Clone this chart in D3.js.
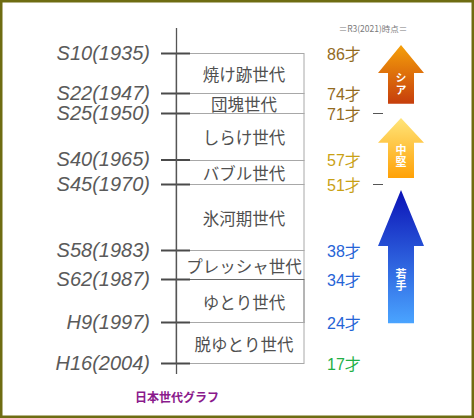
<!DOCTYPE html>
<html>
<head>
<meta charset="utf-8">
<script src="https://cdn.jsdelivr.net/npm/d3@7"></script>
<style>
  html, body { margin: 0; padding: 0; background: #fff; }
  svg { display: block; }
</style>
</head>
<body>
<div id="chart"></div>
<script>
// era label, birth year, generation between this year and the next, age in R3(2021)
const eraLabels = ["S10(1935)", "S22(1947)", "S25(1950)", "S40(1965)", "S45(1970)",
                   "S58(1983)", "S62(1987)", "H9(1997)", "H16(2004)"];
const years = [1935, 1947, 1950, 1965, 1970, 1983, 1987, 1997, 2004];
const generations = ["焼け跡世代", "団塊世代", "しらけ世代", "バブル世代",
                     "氷河期世代", "プレッシャ世代", "ゆとり世代", "脱ゆとり世代"];
const ages = [86, 74, 71, 57, 51, 38, 34, 24, 17];
const ageGroups = ["senior", "senior", "senior", "middle", "middle", "young", "young", "young", "teen"];
const groupBreaks = [1950, 1970];

// arrows (years: tip, head base, bottom)
const arrowNames = ["シア", "中堅", "若手"];
const arrowGroups = ["senior", "middle", "young"];
const arrowTop = [1932.6, 1951.6, 1971.2];
const arrowHeadBase = [1941.0, 1959.6, 1982.2];
const arrowBottom = [1948.6, 1968.8, 1997.2];

const ageColor = {
    'senior': '#936b1e',
    'middle': '#c9a115',
    'young': '#2563d6',
    'teen': '#22b045'
};

const arrowStops = {
    'senior': ['#f5a00a', '#c63e0c'],
    'middle': ['#ffe57a', '#ffa106'],
    'young': ['#0b12b6', '#4aa4ff']
};

var width = 474, height = 418;

var svg = d3.select('#chart').append('svg')
    .attr('width', width)
    .attr('height', height);

// frame
svg.append('rect')
    .attr('x', 1.25).attr('y', 1.25)
    .attr('width', width - 2.5).attr('height', height - 2.5)
    .attr('fill', '#fff')
    .attr('stroke', '#6e6c12')
    .attr('stroke-width', 2.5);

// the timeline is drawn piecewise, row heights set by hand like the original
var yScale = d3.scaleLinear()
    .domain(years)
    .range([53, 93, 113, 159.5, 184, 250, 279, 322, 363]);

var axisX = 176, boxRight = 304;

var defs = svg.append('defs');
arrowGroups.forEach(function (g) {
    var grad = defs.append('linearGradient')
        .attr('id', 'grad-' + g)
        .attr('x1', 0).attr('y1', 0).attr('x2', 0).attr('y2', 1);
    grad.append('stop').attr('offset', '0%').attr('stop-color', arrowStops[g][0]);
    grad.append('stop').attr('offset', '100%').attr('stop-color', arrowStops[g][1]);
});

// generation boxes
var rows = generations.map(function (name, i) {
    return { name: name, y0: years[i], y1: years[i + 1] };
});

svg.selectAll('rect.gen')
    .data(rows)
    .enter().append('rect')
    .attr('class', 'gen')
    .attr('x', axisX)
    .attr('y', function (d) { return Math.round(yScale(d.y0)) + 0.5; })
    .attr('width', boxRight - axisX)
    .attr('height', function (d) { return Math.round(yScale(d.y1)) - Math.round(yScale(d.y0)); })
    .attr('fill', 'none')
    .attr('stroke', function (d) { return d.name === 'ゆとり世代' ? '#6a6a6a' : '#a8a8a8'; })
    .attr('stroke-width', 1);

svg.selectAll('text.gen')
    .data(rows)
    .enter().append('text')
    .attr('class', 'gen')
    .attr('x', (axisX + boxRight) / 2 + 4)
    .attr('y', function (d) { return (yScale(d.y0) + yScale(d.y1)) / 2 + 1; })
    .attr('text-anchor', 'middle')
    .attr('dominant-baseline', 'central')
    .style('font-family', "'Noto Sans CJK JP', sans-serif")
    .style('font-size', '16.5px')
    .attr('fill', '#505050')
    .text(function (d) { return d.name; });

// axis with ticks crossing the line
var axis = svg.append('g')
    .attr('transform', 'translate(' + axisX + ',0)')
    .call(d3.axisLeft(yScale)
        .tickValues(years)
        .tickSize(15)
        .tickPadding(11)
        .tickFormat(function (d, i) { return eraLabels[i]; }));

axis.select('.domain').remove();
axis.selectAll('.tick line')
    .attr('x1', 14)
    .attr('stroke', '#4a4a4a')
    .attr('stroke-width', 2);
axis.selectAll('.tick text')
    .attr('fill', '#5a5a5a')
    .style('font-family', "'Liberation Sans', Arial, sans-serif")
    .style('font-style', 'italic')
    .style('font-size', '20px');

svg.append('line')
    .attr('x1', axisX + 0.5).attr('x2', axisX + 0.5)
    .attr('y1', 28).attr('y2', 374)
    .attr('stroke', '#555')
    .attr('stroke-width', 1.3);

// ages
svg.append('text')
    .attr('x', 373)
    .attr('y', 28)
    .attr('text-anchor', 'middle')
    .attr('dominant-baseline', 'central')
    .style('font-family', "'Noto Sans CJK JP', sans-serif")
    .style('font-size', '8.5px')
    .attr('fill', '#7a7a7a')
    .text('＝R3(2021)時点＝');

svg.selectAll('text.age')
    .data(ages)
    .enter().append('text')
    .attr('class', 'age')
    .attr('x', 327)
    .attr('y', function (d, i) { return yScale(years[i]) + 1; })
    .attr('dominant-baseline', 'central')
    .style('font-family', "'Liberation Sans', 'Noto Sans CJK JP', sans-serif")
    .style('font-size', '16px')
    .attr('fill', function (d, i) { return ageColor[ageGroups[i]]; })
    .text(function (d) { return d + '才'; });

svg.selectAll('line.break')
    .data(groupBreaks)
    .enter().append('line')
    .attr('class', 'break')
    .attr('x1', 373).attr('x2', 383)
    .attr('y1', function (d) { return Math.round(yScale(d)) + 0.5; })
    .attr('y2', function (d) { return Math.round(yScale(d)) + 0.5; })
    .attr('stroke', '#555')
    .attr('stroke-width', 1);

// arrows
var cx = 401, headHalf = 23, shaftHalf = 13;

function arrowPath(top, base, bottom) {
    var p = d3.path();
    p.moveTo(cx, top);
    p.lineTo(cx + headHalf, base);
    p.lineTo(cx + shaftHalf, base);
    p.lineTo(cx + shaftHalf, bottom);
    p.lineTo(cx - shaftHalf, bottom);
    p.lineTo(cx - shaftHalf, base);
    p.lineTo(cx - headHalf, base);
    p.closePath();
    return p.toString();
}

var arrows = svg.selectAll('g.arrow')
    .data(arrowNames)
    .enter().append('g')
    .attr('class', 'arrow');

arrows.append('path')
    .attr('d', function (d, i) {
        return arrowPath(yScale(arrowTop[i]), yScale(arrowHeadBase[i]), yScale(arrowBottom[i]));
    })
    .attr('fill', function (d, i) { return 'url(#grad-' + arrowGroups[i] + ')'; });

// vertical label, one text element per arrow
arrows.append('text')
    .attr('x', cx)
    .attr('y', function (d, i) { return (yScale(arrowHeadBase[i]) + yScale(arrowBottom[i])) / 2 - 4; })
    .attr('text-anchor', 'middle')
    .style('writing-mode', 'vertical-rl')
    .style('font-family', "'Noto Sans CJK JP', sans-serif")
    .style('font-size', '11px')
    .style('font-weight', 'bold')
    .style('letter-spacing', '1.5px')
    .attr('fill', '#fff')
    .text(function (d) { return d; });

// title
svg.append('text')
    .attr('x', 177)
    .attr('y', 396)
    .attr('text-anchor', 'middle')
    .attr('dominant-baseline', 'central')
    .style('font-family', "'Noto Sans CJK JP', sans-serif")
    .style('font-size', '12px')
    .style('font-weight', 'bold')
    .attr('fill', '#8a1a8c')
    .text('日本世代グラフ');
</script>
</body>
</html>
